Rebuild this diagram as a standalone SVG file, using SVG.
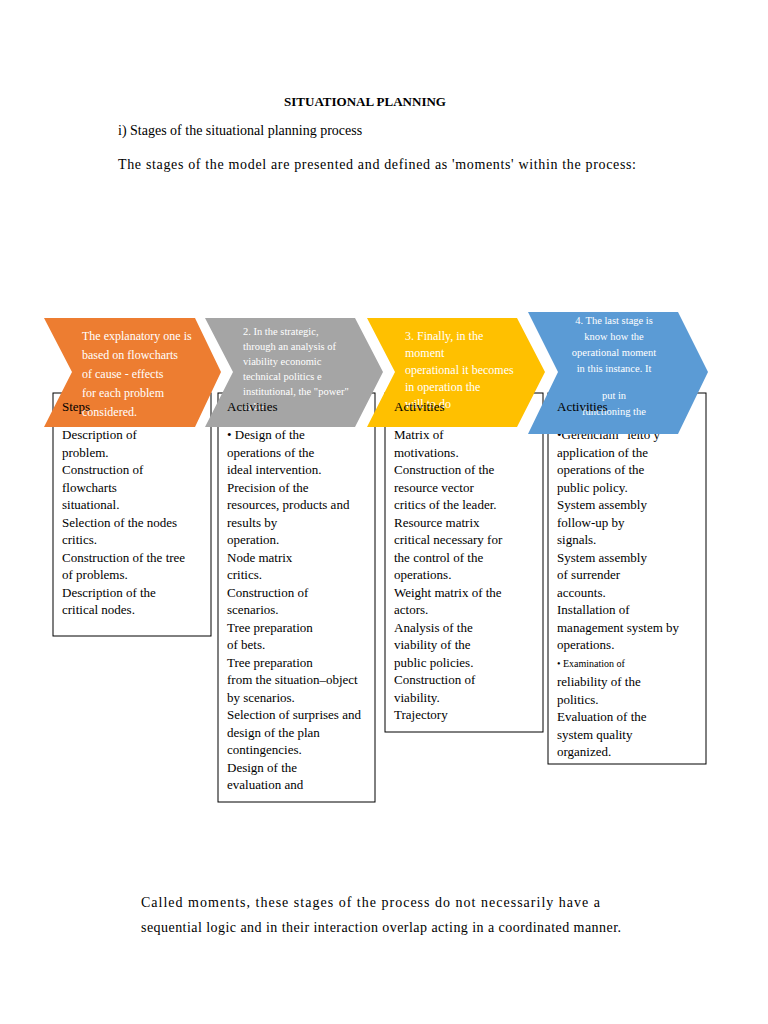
<svg xmlns="http://www.w3.org/2000/svg" width="768" height="1024" viewBox="0 0 768 1024">
<style>
text{font-family:"Liberation Serif",serif;fill:#000}
.b{font-size:13px}
.w{fill:#fff;font-size:12px}
.ws{fill:#fff;font-size:10.5px}
.box{fill:#fff;stroke:#000;stroke-width:1}
</style>
<rect width="768" height="1024" fill="#fff"/>
<text x="365" y="106" font-size="13" font-weight="bold" text-anchor="middle">SITUATIONAL PLANNING</text>
<text x="118" y="135" font-size="14">i) Stages of the situational planning process</text>
<text x="118" y="169" font-size="14" textLength="518">The stages of the model are presented and defined as 'moments' within the process:</text>
<g id="box1"><rect class="box" x="53" y="393" width="158" height="243"/>
<text class="b" x="62"><tspan x="62" y="439">Description of</tspan><tspan x="62" dy="17.5">problem.</tspan><tspan x="62" dy="17.5">Construction of</tspan><tspan x="62" dy="17.5">flowcharts</tspan><tspan x="62" dy="17.5">situational.</tspan><tspan x="62" dy="17.5">Selection of the nodes</tspan><tspan x="62" dy="17.5">critics.</tspan><tspan x="62" dy="17.5">Construction of the tree</tspan><tspan x="62" dy="17.5">of problems.</tspan><tspan x="62" dy="17.5">Description of the</tspan><tspan x="62" dy="17.5">critical nodes.</tspan></text></g>
<g id="box2"><rect class="box" x="218" y="393" width="157" height="409"/>
<text class="b"><tspan x="227" y="439">• Design of the</tspan><tspan x="227" dy="17.5">operations of the</tspan><tspan x="227" dy="17.5">ideal intervention.</tspan><tspan x="227" dy="17.5">Precision of the</tspan><tspan x="227" dy="17.5">resources, products and</tspan><tspan x="227" dy="17.5">results by</tspan><tspan x="227" dy="17.5">operation.</tspan><tspan x="227" dy="17.5">Node matrix</tspan><tspan x="227" dy="17.5">critics.</tspan><tspan x="227" dy="17.5">Construction of</tspan><tspan x="227" dy="17.5">scenarios.</tspan><tspan x="227" dy="17.5">Tree preparation</tspan><tspan x="227" dy="17.5">of bets.</tspan><tspan x="227" dy="17.5">Tree preparation</tspan><tspan x="227" dy="17.5">from the situation–object</tspan><tspan x="227" dy="17.5">by scenarios.</tspan><tspan x="227" dy="17.5">Selection of surprises and</tspan><tspan x="227" dy="17.5">design of the plan</tspan><tspan x="227" dy="17.5">contingencies.</tspan><tspan x="227" dy="17.5">Design of the</tspan><tspan x="227" dy="17.5">evaluation and</tspan></text></g>
<g id="box3"><rect class="box" x="385" y="393" width="158" height="339"/>
<text class="b"><tspan x="394" y="439">Matrix of</tspan><tspan x="394" dy="17.5">motivations.</tspan><tspan x="394" dy="17.5">Construction of the</tspan><tspan x="394" dy="17.5">resource vector</tspan><tspan x="394" dy="17.5">critics of the leader.</tspan><tspan x="394" dy="17.5">Resource matrix</tspan><tspan x="394" dy="17.5">critical necessary for</tspan><tspan x="394" dy="17.5">the control of the</tspan><tspan x="394" dy="17.5">operations.</tspan><tspan x="394" dy="17.5">Weight matrix of the</tspan><tspan x="394" dy="17.5">actors.</tspan><tspan x="394" dy="17.5">Analysis of the</tspan><tspan x="394" dy="17.5">viability of the</tspan><tspan x="394" dy="17.5">public policies.</tspan><tspan x="394" dy="17.5">Construction of</tspan><tspan x="394" dy="17.5">viability.</tspan><tspan x="394" dy="17.5">Trajectory</tspan></text></g>
<g id="box4"><rect class="box" x="548" y="393" width="158" height="371"/>
<text class="b"><tspan x="557" y="439">•Gerenciam "leito y</tspan><tspan x="557" dy="17.5">application of the</tspan><tspan x="557" dy="17.5">operations of the</tspan><tspan x="557" dy="17.5">public policy.</tspan><tspan x="557" dy="17.5">System assembly</tspan><tspan x="557" dy="17.5">follow-up by</tspan><tspan x="557" dy="17.5">signals.</tspan><tspan x="557" dy="17.5">System assembly</tspan><tspan x="557" dy="17.5">of surrender</tspan><tspan x="557" dy="17.5">accounts.</tspan><tspan x="557" dy="17.5">Installation of</tspan><tspan x="557" dy="17.5">management system by</tspan><tspan x="557" dy="17.5">operations.</tspan><tspan x="557" dy="17.5" font-size="10">• Examination of</tspan><tspan x="557" dy="19.5">reliability of the</tspan><tspan x="557" dy="17.5">politics.</tspan><tspan x="557" dy="17.5">Evaluation of the</tspan><tspan x="557" dy="17.5">system quality</tspan><tspan x="557" dy="17.5">organized.</tspan></text></g>
<g id="stage1"><polygon points="44,318 195,318 221,372 195,427 44,427 72,372" fill="#ED7D31"/>
<text class="w"><tspan x="82" y="340">The explanatory one is</tspan><tspan x="82" dy="19">based on flowcharts</tspan><tspan x="82" dy="19">of cause - effects</tspan><tspan x="82" dy="19">for each problem</tspan><tspan x="82" dy="19">considered.</tspan></text></g>
<g id="stage2"><polygon points="205,318 355,318 383,372 355,427 205,427 233,372" fill="#A5A5A5"/>
<text class="ws"><tspan x="243" y="335">2. In the strategic,</tspan><tspan x="243" dy="15">through an analysis of</tspan><tspan x="243" dy="15">viability economic</tspan><tspan x="243" dy="15">technical politics e</tspan><tspan x="243" dy="15">institutional, the "power"</tspan><tspan x="243" dy="15">to be</tspan></text></g>
<g id="stage3"><polygon points="367,318 517,318 545,372 517,427 367,427 395,372" fill="#FFC000"/>
<text class="w"><tspan x="405" y="340">3. Finally, in the</tspan><tspan x="405" dy="17">moment</tspan><tspan x="405" dy="17">operational it becomes</tspan><tspan x="405" dy="17">in operation the</tspan><tspan x="405" dy="17">will to do</tspan></text></g>
<g id="stage4"><polygon points="528,312 678,312 708,372 678,434 528,434 558,372" fill="#5B9BD5"/>
<text class="ws" text-anchor="middle"><tspan x="614" y="324">4. The last stage is</tspan><tspan x="614" dy="16">know how the</tspan><tspan x="614" dy="16">operational moment</tspan><tspan x="614" dy="16">in this instance. It</tspan><tspan x="614" dy="27">put in</tspan><tspan x="614" dy="16">functioning the</tspan></text></g>
<g id="labels">
<text class="b" x="62" y="411">Steps</text>
<text class="b" x="227" y="411">Activities</text>
<text class="b" x="394" y="411">Activities</text>
<text class="b" x="557" y="411">Activities</text>
</g>
<g id="connectors"></g>
<text font-size="14" x="141" y="907" textLength="459">Called moments, these stages of the process do not necessarily have a</text>
<text font-size="14" x="141" y="932" textLength="480">sequential logic and in their interaction overlap acting in a coordinated manner.</text>
</svg>
